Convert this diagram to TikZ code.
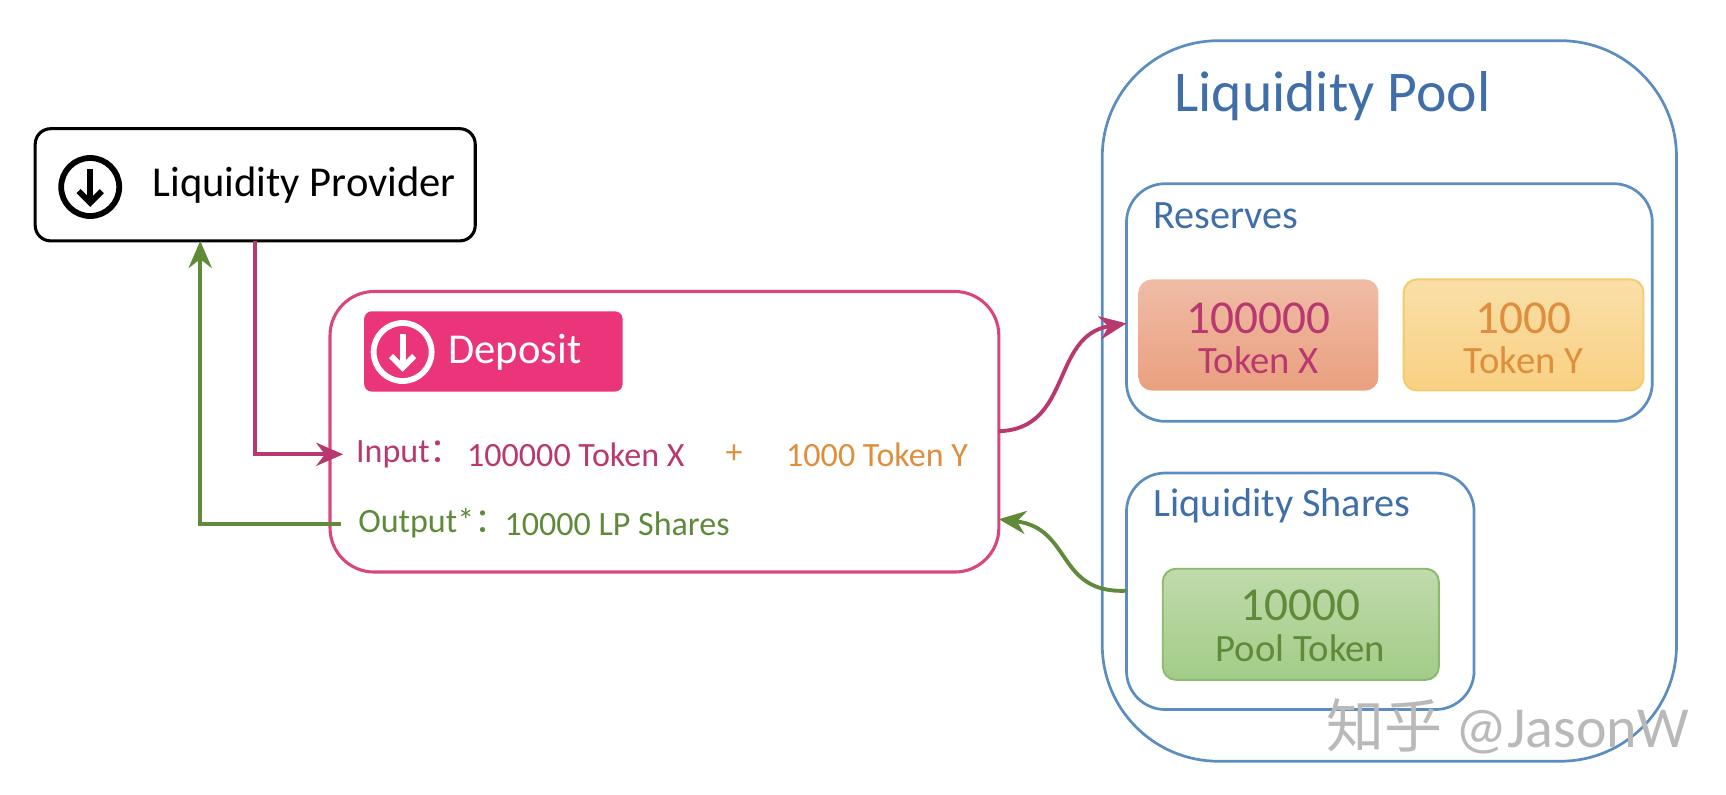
\documentclass[tikz,border=0pt]{standalone}
\usepackage{fontspec}
\setmainfont{Carlito}
\newfontfamily\cjk{Noto Sans CJK SC}
\usetikzlibrary{arrows.meta}
\definecolor{mag}{HTML}{B8386F}
\definecolor{pinkb}{HTML}{D9467E}
\definecolor{pinkf}{HTML}{EA357A}
\definecolor{org}{HTML}{DE8E3C}
\definecolor{grn}{HTML}{5E8A3A}
\definecolor{blu}{HTML}{5B8DC0}
\definecolor{blut}{HTML}{3F6EA8}
\definecolor{xt}{HTML}{F0BCA6}\definecolor{xb}{HTML}{E9A07F}
\definecolor{yd}{HTML}{F2CB6E}\definecolor{yt}{HTML}{F9DFA8}\definecolor{yb}{HTML}{F9D183}
\definecolor{gd}{HTML}{8DB870}\definecolor{gt}{HTML}{BFDBAA}\definecolor{gb}{HTML}{A3CC88}
\begin{document}
\begin{tikzpicture}[x=0.01cm,y=-0.01cm,
  box/.style={draw=blu,line width=0.7pt},
  tok/.style={rounded corners=3.4pt,line width=0.5pt},
  arr/.style={line width=1pt,-{Stealth[length=7pt,width=6pt]}},
  t/.style={inner sep=0,anchor=west},
  sm/.style={font=\fontsize{8.8pt}{10pt}\selectfont}]
\useasboundingbox (0,0) rectangle (1569,722);
% Liquidity provider
\draw[line width=0.8pt,rounded corners=4pt] (32,117) rectangle (432,219);
\node[draw,circle,line width=1.5pt,minimum size=15pt,inner sep=0] (ic1) at (82,170) {};
\draw[line width=1.5pt,-{Straight Barb[length=3pt]}] (82,154) -- (82,188);
\node[t,font=\fontsize{11pt}{12pt}\selectfont] (lp) at (138,168) {Liquidity Provider};
\coordinate (lpb1) at (232,219); \coordinate (lpb2) at (182,219);
% Deposit
\draw[draw=pinkb,line width=0.8pt,rounded corners=11.4pt] (300,265) rectangle (908,520);
\fill[pinkf,rounded corners=2pt] (331,283) rectangle (566,356);
\node[draw=white,circle,line width=1.5pt,minimum size=15pt,inner sep=0] at (366,320) {};
\draw[white,line width=1.5pt,-{Straight Barb[length=3pt]}] (366,304) -- (366,338);
\node[t,white,font=\fontsize{11pt}{12pt}\selectfont] at (407,320) {Deposit};
\node[t,mag,sm] (in) at (323,413) {Input{\cjk ：}};
\node[t,mag,sm] at (424,413) {100000 Token X};
\node[t,org,sm] at (659,413) {+};
\node[t,org,sm] at (714,413) {1000 Token Y};
\node[t,grn,sm] (out) at (325,476) {Output*{\cjk ：}};
\node[t,grn,sm] at (458,476) {10000 LP Shares};
\coordinate (inA) at (312,413); \coordinate (outA) at (310,476);
\draw[arr,mag] (lpb1) |- (inA);
\draw[arr,grn] (outA) -| (lpb2);
% Pool
\draw[box,rounded corners=30pt] (1002,37) rectangle (1524,692);
\node[t,blut,font=\fontsize{14.9pt}{17pt}\selectfont] at (1067,87) {Liquidity Pool};
\draw[box,rounded corners=10pt] (1024,167) rectangle (1502,383);
\node[t,blut,font=\fontsize{10.4pt}{12pt}\selectfont] at (1048,196) {Reserves};
\draw[tok,draw=none,top color=xt,bottom color=xb] (1035,254) rectangle (1253,355);
\node[mag,font=\fontsize{12.2pt}{13pt}\selectfont] at (1144,289) {100000};
\node[mag,font=\fontsize{10pt}{11pt}\selectfont] at (1144,327) {Token X};
\draw[tok,draw=yd,top color=yt,bottom color=yb] (1276,254) rectangle (1494,355);
\node[org,font=\fontsize{12.2pt}{13pt}\selectfont] at (1385,289) {1000};
\node[org,font=\fontsize{10pt}{11pt}\selectfont] at (1385,327) {Token Y};
\draw[box,rounded corners=10pt] (1024,430) rectangle (1340,645);
\node[t,blut,font=\fontsize{10.4pt}{12pt}\selectfont] at (1048,460) {Liquidity Shares};
\draw[tok,draw=gd,top color=gt,bottom color=gb] (1057,517) rectangle (1308,618);
\node[grn,font=\fontsize{12.2pt}{13pt}\selectfont] at (1182,550) {10000};
\node[grn,font=\fontsize{10pt}{11pt}\selectfont] at (1182,589) {Pool Token};
\coordinate (c1) at (908,392); \coordinate (c2) at (1024,294);
\coordinate (c3) at (1024,537); \coordinate (c4) at (908,472);
\draw[arr,mag] (c1) .. controls (975,390) and (955,305) .. (c2);
\draw[arr,grn] (c3) .. controls (960,540) and (975,480) .. (c4);
\node[t,gray!55,font=\fontsize{15pt}{17pt}\selectfont] at (1205,660) {{\cjk 知乎} @JasonW};
\end{tikzpicture}
\end{document}
